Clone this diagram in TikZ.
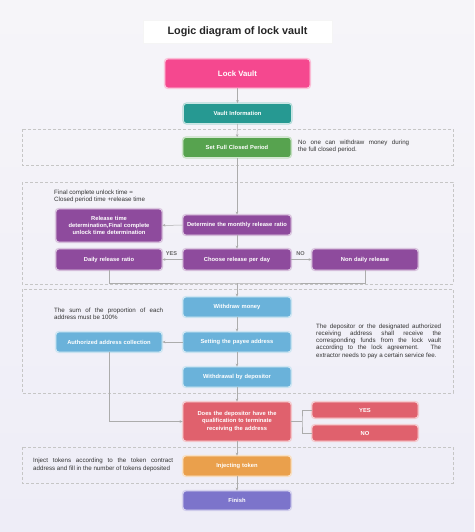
\documentclass[tikz,border=0pt]{standalone}
\usepackage{fontspec}
\setmainfont{Liberation Sans}
\usetikzlibrary{arrows.meta}

\definecolor{bgtop}{HTML}{F6F5F9}
\definecolor{bgmid}{HTML}{F7E9F5}
\definecolor{bgbot}{HTML}{EEEDF7}
\definecolor{vaultpink}{HTML}{F5488F}
\definecolor{vaultteal}{HTML}{269992}
\definecolor{vaultgreen}{HTML}{57A34F}
\definecolor{vaultpurple}{HTML}{8E4B9D}
\definecolor{vaultblue}{HTML}{6AB2DA}
\definecolor{vaultred}{HTML}{E0616D}
\definecolor{vaultorange}{HTML}{EAA04C}
\definecolor{vaultviolet}{HTML}{7C74CB}
\definecolor{notetext}{HTML}{333333}

\begin{document}
\begin{tikzpicture}[x=1pt, y=-1pt,
		box/.style={rounded corners=3pt, fill=#1, preaction={draw=#1!35, line width=2.2pt},
			draw=white!75!#1, line width=0.7pt, text=white, align=center, inner sep=1pt,
			font=\fontsize{5.8}{7.4}\selectfont\bfseries, minimum height=20pt},
		midbox/.style={box=#1, text width=106pt},
		sidebox/.style={box=#1, text width=104pt},
		note/.style={text=notetext, font=\fontsize{6.2}{7.3}\selectfont, inner sep=0pt, anchor=west},
		frame/.style={draw=gray!45, dash pattern=on 3pt off 2pt, line width=0.5pt},
		link/.style={draw=gray!65, line width=0.5pt},
		arrow/.style={link, -{Stealth[length=3pt, width=2.6pt]}},
		choice/.style={text=gray!80!black, font=\fontsize{5.6}{6}\selectfont\bfseries}]

	% Background
	\useasboundingbox (0,0) rectangle (474,532);
	\shade[top color=bgtop, middle color=bgmid, bottom color=bgbot] (0,0) rectangle (474,532);

	% Title
	\node[fill=white, draw=gray!8, minimum width=189pt, minimum height=23pt,
		font=\fontsize{10.8}{12}\selectfont\bfseries, text=black!85] (title) at (237.5,31.5)
		{Logic diagram of lock vault};

	% Dashed frames
	\draw[frame] (22,129) rectangle (453,165);
	\draw[frame] (22,182) rectangle (453,284);
	\draw[frame] (22,289) rectangle (453,393);
	\draw[frame] (22,447) rectangle (453,483);

	% Main column
	\node[box=vaultpink, minimum width=145pt, minimum height=29pt,
		font=\fontsize{7.8}{9}\selectfont\bfseries] (lock) at (237.5,73.5) {Lock Vault};
	\node[midbox=vaultteal] (info) at (237.5,113.5) {Vault Information};
	\node[midbox=vaultgreen] (closed) at (237,147.5) {Set Full Closed Period};
	\node[midbox=vaultpurple] (monthly) at (237,225) {Determine the monthly release ratio};
	\node[midbox=vaultpurple, minimum height=21pt] (perday) at (237,259.5) {Choose release per day};
	\node[midbox=vaultblue] (withdraw) at (237,307) {Withdraw money};
	\node[midbox=vaultblue] (payee) at (237,342) {Setting the payee address};
	\node[midbox=vaultblue] (bydep) at (237,377) {Withdrawal by depositor};
	\node[midbox=vaultred, minimum height=39pt] (qualify) at (237,421.5)
		{Does the depositor have the\\qualification to terminate\\receiving the address};
	\node[midbox=vaultorange] (inject) at (237,466) {Injecting token};
	\node[midbox=vaultviolet, minimum height=19pt] (finish) at (237,500.5) {Finish};

	% Side boxes
	\node[sidebox=vaultpurple, minimum height=33pt] (reltime) at (109,225.5)
		{Release time\\determination,Final complete\\unlock time determination};
	\node[sidebox=vaultpurple, minimum height=21pt] (daily) at (109,259.5) {Daily release ratio};
	\node[sidebox=vaultpurple, minimum height=21pt] (nondaily) at (365,259.5) {Non daily release};
	\node[sidebox=vaultblue] (authcol) at (109,342) {Authorized address collection};
	\node[sidebox=vaultred, minimum height=16pt] (yes) at (365,410) {YES};
	\node[sidebox=vaultred, minimum height=16pt] (no) at (365,433) {NO};

	% Notes
	\node[note, text width=111pt, align=justify] (closednote) at (298,146.5)
		{No one can withdraw money during\linebreak the full closed period.};
	\node[note, align=left] (unlocknote) at (54,196.5)
		{Final complete unlock time =\\Closed period time +release time};
	\node[note, text width=109pt, align=justify] (sumnote) at (54,314)
		{The sum of the proportion of each\linebreak address must be 100\%};
	\node[note, text width=125pt, align=justify] (depnote) at (316,341)
		{The depositor or the designated authorized\linebreak receiving address shall receive the\linebreak
		corresponding funds from the lock vault\linebreak according to the lock agreement. The\linebreak
		extractor needs to pay a certain service fee.};
	\node[note, text width=140pt, align=justify] (injectnote) at (33,465)
		{Inject tokens according to the token contract\linebreak address and fill in the number of tokens deposited};

	% Connectors
	\draw[arrow] (lock) -- (info);
	\draw[arrow] (info) -- (closed);
	\draw[arrow] (closed) -- (monthly);
	\draw[arrow] (monthly) -- (reltime);
	\draw[arrow] (monthly) -- (perday);
	\draw[arrow] (perday) -- node[choice, above, pos=0.55] {YES} (daily);
	\draw[arrow] (perday) -- node[choice, above, pos=0.45] {NO} (nondaily);

	% Merge of the two release branches
	\coordinate (merge) at (237,283);
	\draw[link] (daily.south) |- (merge) -| (nondaily.south);
	\draw[arrow] (merge) -- (withdraw);

	\draw[arrow] (withdraw) -- (payee);
	\draw[arrow] (payee) -- (authcol);
	\draw[arrow] (payee) -- (bydep);
	\draw[arrow] (bydep) -- (qualify);
	\draw[arrow] (authcol.south) |- (qualify.west);

	% Fork to YES / NO
	\coordinate (fork) at (302,421.5);
	\draw[link] (qualify.east) -- (fork);
	\draw[link] (yes.west) -| (fork) |- (no.west);

	\draw[arrow] (qualify) -- (inject);
	\draw[arrow] (inject) -- (finish);
\end{tikzpicture}
\end{document}
